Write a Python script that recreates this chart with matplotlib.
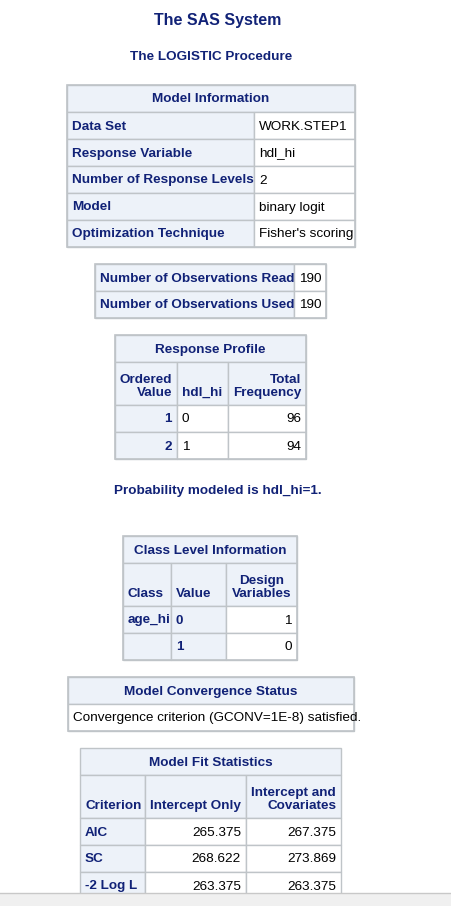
import matplotlib.pyplot as plt
from matplotlib.patches import Rectangle

plt.rcParams['font.family'] = ['Liberation Sans', 'DejaVu Sans']

NAVY = "#112277"
HEAD_BG = "#EDF2F9"
LINE = "#BFC4C8"
FS = 9.7

# table contents
model_info_labels = ["Data Set", "Response Variable", "Number of Response Levels", "Model", "Optimization Technique"]
model_info_values = ["WORK.STEP1", "hdl_hi", "2", "binary logit", "Fisher's scoring"]
obs_labels = ["Number of Observations Read", "Number of Observations Used"]
obs_values = ["190", "190"]
resp_ordered = ["1", "2"]
resp_hdl = ["0", "1"]
resp_freq = ["96", "94"]
class_names = ["age_hi", ""]
class_values = ["0", "1"]
class_design = ["1", "0"]
convergence_msg = "Convergence criterion (GCONV=1E-8) satisfied."
fit_criteria = ["AIC", "SC", "-2 Log L"]
fit_intercept = ["265.375", "268.622", "263.375"]
fit_covariates = ["267.375", "273.869", "263.375"]

fig = plt.figure(figsize=(4.51, 9.06), dpi=100)
ax = fig.add_axes([0, 0, 1, 1])
ax.set_xlim(0, 451)
ax.set_ylim(906, 0)
ax.axis("off")


def cell(x0, x1, y0, y1, text, bold=False, bg="white", ha="left", va="center", color=None):
    ax.add_patch(Rectangle((x0, y0), x1 - x0, y1 - y0, facecolor=bg, edgecolor=LINE, lw=1))
    if ha == "left":
        tx = x0 + 5
    elif ha == "right":
        tx = x1 - 5
    else:
        tx = (x0 + x1) / 2
    if va == "center":
        ty, lines = (y0 + y1) / 2 + 1, "center"
    else:
        ty, lines = y1 - 6, "bottom"
    ax.text(tx, ty, text, ha=ha, va=lines, fontsize=FS, fontweight="bold" if bold else "normal",
            color=color or (NAVY if bold else "black"), linespacing=1.15, multialignment=ha)


def outer(x0, x1, y0, y1):
    ax.add_patch(Rectangle((x0, y0), x1 - x0, y1 - y0, fill=False, edgecolor=LINE, lw=1.2))


ax.text(218, 21, "The SAS System", ha="center", va="center", fontsize=11.5, fontweight="bold", color=NAVY)
ax.text(211, 57, "The LOGISTIC Procedure", ha="center", va="center", fontsize=FS, fontweight="bold", color=NAVY)

# Model Information
x = [67, 254, 355]
y0 = 85
cell(x[0], x[2], y0, y0 + 27, "Model Information", True, HEAD_BG, "center")
for i, (lab, val) in enumerate(zip(model_info_labels, model_info_values)):
    ya = y0 + 27 * (i + 1)
    cell(x[0], x[1], ya, ya + 27, lab, True, HEAD_BG)
    cell(x[1], x[2], ya, ya + 27, val)
outer(x[0], x[2], y0, y0 + 27 * 6)

# Observations
x = [95, 294, 326]
y0 = 264
for i, (lab, val) in enumerate(zip(obs_labels, obs_values)):
    ya = y0 + 27 * i
    cell(x[0], x[1], ya, ya + 27, lab, True, HEAD_BG)
    cell(x[1], x[2], ya, ya + 27, val)
outer(x[0], x[2], y0, y0 + 54)

# Response Profile
x = [115, 177, 228, 306]
y0 = 335
cell(x[0], x[3], y0, y0 + 27, "Response Profile", True, HEAD_BG, "center")
cell(x[0], x[1], y0 + 27, y0 + 70, "Ordered\nValue", True, HEAD_BG, "right", "bottom")
cell(x[1], x[2], y0 + 27, y0 + 70, "hdl_hi", True, HEAD_BG, "left", "bottom")
cell(x[2], x[3], y0 + 27, y0 + 70, "Total\nFrequency", True, HEAD_BG, "right", "bottom")
for i in range(len(resp_ordered)):
    ya = y0 + 70 + 27 * i
    cell(x[0], x[1], ya, ya + 27, resp_ordered[i], True, HEAD_BG, "right")
    cell(x[1], x[2], ya, ya + 27, resp_hdl[i])
    cell(x[2], x[3], ya, ya + 27, resp_freq[i], ha="right")
outer(x[0], x[3], y0, y0 + 124)

ax.text(218, 491, "Probability modeled is hdl_hi=1.", ha="center", va="center", fontsize=FS,
        fontweight="bold", color=NAVY)

# Class Level Information
x = [123, 171, 226, 297]
y0 = 536
cell(x[0], x[3], y0, y0 + 27, "Class Level Information", True, HEAD_BG, "center")
cell(x[0], x[1], y0 + 27, y0 + 70, "Class", True, HEAD_BG, "left", "bottom")
cell(x[1], x[2], y0 + 27, y0 + 70, "Value", True, HEAD_BG, "left", "bottom")
cell(x[2], x[3], y0 + 27, y0 + 70, "Design\nVariables", True, HEAD_BG, "center", "bottom")
for i in range(len(class_values)):
    ya = y0 + 70 + 27 * i
    cell(x[0], x[1], ya, ya + 27, class_names[i], True, HEAD_BG)
    cell(x[1], x[2], ya, ya + 27, class_values[i], True, HEAD_BG)
    cell(x[2], x[3], ya, ya + 27, class_design[i], ha="right")
outer(x[0], x[3], y0, y0 + 124)

# Model Convergence Status
x = [68, 354]
y0 = 677
cell(x[0], x[1], y0, y0 + 27, "Model Convergence Status", True, HEAD_BG, "center")
cell(x[0], x[1], y0 + 27, y0 + 54, convergence_msg)
outer(x[0], x[1], y0, y0 + 54)

# Model Fit Statistics
x = [80, 145, 246, 341]
y0 = 748
cell(x[0], x[3], y0, y0 + 27, "Model Fit Statistics", True, HEAD_BG, "center")
cell(x[0], x[1], y0 + 27, y0 + 70, "Criterion", True, HEAD_BG, "left", "bottom")
cell(x[1], x[2], y0 + 27, y0 + 70, "Intercept Only", True, HEAD_BG, "right", "bottom")
cell(x[2], x[3], y0 + 27, y0 + 70, "Intercept and\nCovariates", True, HEAD_BG, "right", "bottom")
for i in range(len(fit_criteria)):
    ya = y0 + 70 + 27 * i
    cell(x[0], x[1], ya, ya + 27, fit_criteria[i], True, HEAD_BG)
    cell(x[1], x[2], ya, ya + 27, fit_intercept[i], ha="right")
    cell(x[2], x[3], ya, ya + 27, fit_covariates[i], ha="right")

# scrollbar strip at the bottom
ax.add_patch(Rectangle((0, 893), 451, 13, facecolor="#F0F0F0", edgecolor="none", zorder=5))
ax.plot([0, 451], [893, 893], color="#C8C8C8", lw=1, zorder=6)

fig.savefig("out.png", dpi=100)
